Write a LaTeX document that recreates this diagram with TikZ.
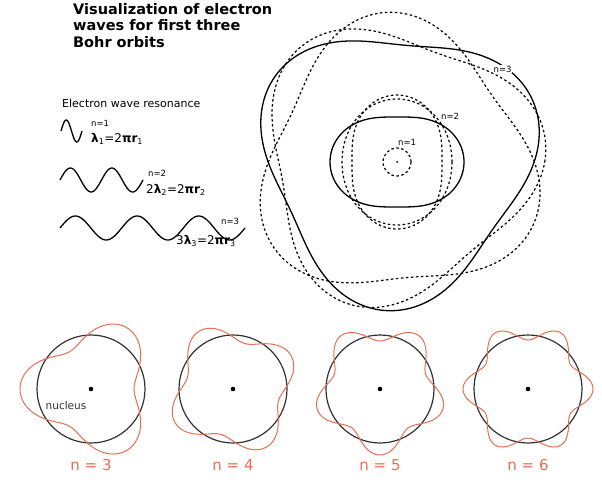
\documentclass[tikz,border=0pt]{standalone}
\usepackage{fontspec}
\setmainfont{DejaVu Sans}
\definecolor{wred}{RGB}{232,110,80}
\definecolor{cgray}{RGB}{50,50,50}
\tikzset{
  wave/.style={line width=1.3pt,line join=round},
  dwave/.style={line width=1.2pt,dash pattern=on 2.5pt off 2.5pt},
  orbit/.style={draw=cgray,line width=1.2pt},
  rwave/.style={draw=wred,line width=1pt},
  lab/.style={inner sep=0pt,anchor=west},
}
\begin{document}
\begin{tikzpicture}[x=1pt,y=-1pt]
\useasboundingbox (0,0) rectangle (602,490);
% title
\node[lab,anchor=north west,align=left,font=\fontsize{14.5}{16.5}\selectfont\bfseries] (title) at (73,3) {Visualization of electron\\waves for first three\\Bohr orbits};
\node[lab,font=\fontsize{11}{12}\selectfont] (ewr) at (62,103) {Electron wave resonance};
% left waves
\draw[wave] plot[domain=0:360,samples=40,variable=\t] ({61+\t/360*21},{131-11*sin(\t)});
\draw[wave] plot[domain=0:720,samples=80,variable=\t] ({60+\t/720*83},{180-12*sin(\t)});
\draw[wave] plot[domain=0:1080,samples=120,variable=\t] ({60+\t/1080*185},{228-12*sin(\t)});
\node[lab,font=\fontsize{8.5}{9}\selectfont] (l1) at (91,123) {n=1};
\node[lab,font=\fontsize{12}{13}\selectfont] (f1) at (91,139) {\textbf{λ}\textsubscript{1}=2\textbf{πr}\textsubscript{1}};
\node[lab,font=\fontsize{8.5}{9}\selectfont] (l2) at (148,173) {n=2};
\node[lab,font=\fontsize{12}{13}\selectfont] (f2) at (146,190) {2\textbf{λ}\textsubscript{2}=2\textbf{πr}\textsubscript{2}};
\node[lab,font=\fontsize{8.5}{9}\selectfont] (l3) at (221,221) {n=3};
\node[lab,font=\fontsize{12}{13}\selectfont] (f3) at (176,241) {3\textbf{λ}\textsubscript{3}=2\textbf{πr}\textsubscript{3}};
% top-right orbits
\coordinate (C) at (397,162);
\fill (C) circle (1pt);
\draw[dwave] (C) circle (14);
\draw[wave] plot[domain=0:360,samples=150,variable=\t,smooth] ({397+(56+11*cos(2*\t))*cos(\t)},{162-(56+11*cos(2*\t))*sin(\t)}) -- cycle;
\draw[dwave] plot[domain=0:360,samples=150,variable=\t,smooth] ({397+(56-11*cos(2*\t))*cos(\t)},{162-(56-11*cos(2*\t))*sin(\t)}) -- cycle;
\draw[dwave] plot[domain=0:360,samples=150,variable=\t,smooth] ({397+(59-4*cos(2*\t))*cos(\t)},{162-(59-4*cos(2*\t))*sin(\t)}) -- cycle;
\draw[wave] plot[domain=0:360,samples=200,variable=\t,smooth] ({397+(133+16*cos(3*(\t-25)))*cos(\t)},{162-(133+16*cos(3*(\t-25)))*sin(\t)}) -- cycle;
\draw[dwave] plot[domain=0:360,samples=200,variable=\t,smooth] ({397+(133+17*cos(3*(\t-95)))*cos(\t)},{162-(133+17*cos(3*(\t-95)))*sin(\t)}) -- cycle;
\draw[dwave] plot[domain=0:360,samples=200,variable=\t,smooth] ({397+(133+17*cos(3*(\t-130)))*cos(\t)},{162-(133+17*cos(3*(\t-130)))*sin(\t)}) -- cycle;
\node[lab,font=\fontsize{8.5}{9}\selectfont,fill=white,inner sep=0.5pt] (m3) at (493,69) {n=3};
\node[lab,font=\fontsize{8.5}{9}\selectfont] (m2) at (441,116) {n=2};
\node[lab,font=\fontsize{8.5}{9}\selectfont] (m1) at (398,142) {n=1};
% bottom row
\foreach \cx/\n/\p/\a in {91/3/180/14, 233/4/30/10, 380/5/-90/9, 528/6/0/8}{
  \draw[orbit] (\cx,389) circle (54);
  \fill (\cx,389) circle (2.3pt);
  \draw[rwave] plot[domain=0:360,samples=200,variable=\t,smooth] ({\cx+(57+\a*cos(\n*(\t-\p)))*cos(\t)},{389-(57+\a*cos(\n*(\t-\p)))*sin(\t)}) -- cycle;
  \node[text=wred,font=\fontsize{15}{16}\selectfont] at (\cx,465) {n = \n};
}
\node[text=cgray,font=\fontsize{10.5}{11}\selectfont] (nuc) at (66,406) {nucleus};
\end{tikzpicture}
\end{document}
